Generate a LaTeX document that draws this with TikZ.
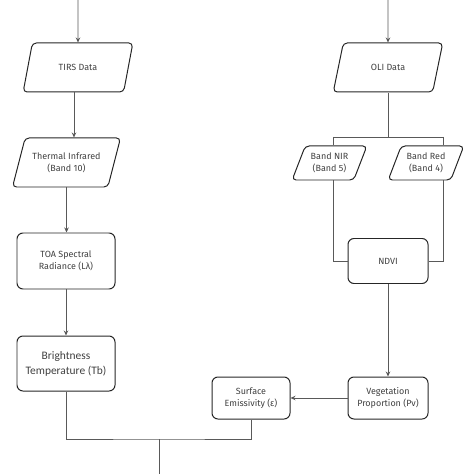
\documentclass[tikz,border=0pt]{standalone}
\usepackage{fontspec}
\setmainfont{Fira Sans}
\newfontfamily\brightfont{Carlito}
\usetikzlibrary{shapes.geometric,arrows.meta}
\tikzset{
	para/.style={trapezium,trapezium left angle=64,trapezium right angle=116,trapezium stretches=true,draw=black!85,line width=1pt,rounded corners=4pt,align=center,inner sep=1pt,text=black!75,font=\fontsize{9}{12}\selectfont},
	box/.style={rectangle,draw=black!85,line width=1pt,rounded corners=6pt,align=center,inner sep=1pt,text=black!75,font=\fontsize{9}{12}\selectfont},
	flow/.style={draw=black!65,line width=0.7pt,-{Stealth[length=5pt,width=4.5pt]}},
	link/.style={draw=black!65,line width=0.7pt}
}

\begin{document}
\begin{tikzpicture}[x=1bp,y=-1bp]
	\useasboundingbox (0,0) rectangle (474,474);

	% left branch
	\node [para,minimum width=110bp,minimum height=49bp] (tirs) at (78,67.5) {TIRS Data};
	\node [para,minimum width=109bp,minimum height=49bp] (thermal) at (66.5,162.5) {Thermal Infrared\\(Band 10)};
	\node [box,minimum width=98bp,minimum height=56bp] (toa) at (66,261) {TOA Spectral\\Radiance (Lλ)};
	\node [box,minimum width=98bp,minimum height=55bp,font=\brightfont\fontsize{11.5}{15}\selectfont] (bright) at (66,363.5) {Brightness\\Temperature (Tb)};

	% right branch
	\node [para,minimum width=110bp,minimum height=49bp] (oli) at (388,67.5) {OLI Data};
	\node [para,minimum width=75bp,minimum height=34bp] (nir) at (329.5,163) {Band NIR\\(Band 5)};
	\node [para,minimum width=76bp,minimum height=34bp] (red) at (426,163) {Band Red\\(Band 4)};
	\node [box,minimum width=80bp,minimum height=45bp] (ndvi) at (388,261) {NDVI};
	\node [box,minimum width=80bp,minimum height=42bp] (veg) at (388,398) {Vegetation\\Proportion (Pv)};
	\node [box,minimum width=78bp,minimum height=42bp] (surf) at (251,398) {Surface\\Emissivity (ε)};

	\coordinate (tirsin) at (78,0);
	\coordinate (oliin) at (388,0);
	\coordinate (splitl) at (333,137);
	\coordinate (splitr) at (443,137);
	\coordinate (merge) at (159,439);
	\coordinate (out) at (159,474);

	\draw [flow] (tirsin) -- (tirs);
	\draw [flow] ([xshift=-4bp]tirs.south) -- ([xshift=-4bp]tirs.south |- thermal.north);
	\draw [flow] (thermal.south) -- (thermal.south |- toa.north);
	\draw [flow] (toa) -- (bright);

	\draw [flow] (oliin) -- (oli);
	\draw [link] (oli.south) -- (oli.south |- splitl);
	\draw [link] (splitl) -- (splitr);
	\draw [link] (splitl) -- (splitl |- nir.north);
	\draw [link] (splitr) -- (splitr |- red.north);
	\draw [link] (splitl |- nir.south) |- (ndvi.west);
	\draw [link] (splitr |- red.south) |- (ndvi.east);
	\draw [flow] (ndvi) -- (veg);
	\draw [flow] (veg) -- (surf);

	\draw [link] (bright.south) |- (merge) -| (surf.south);
	\draw [link] (merge) -- (out);
\end{tikzpicture}
\end{document}
